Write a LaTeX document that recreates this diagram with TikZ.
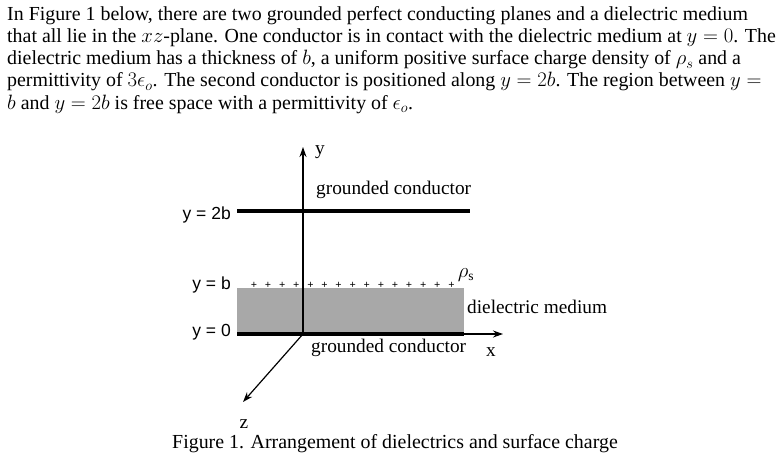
\documentclass[tikz,border=0pt]{standalone}
\usepackage{fontspec}
\setmainfont{Liberation Serif}
\setsansfont{Liberation Sans}
\usetikzlibrary{arrows.meta}
\begin{document}
\begin{tikzpicture}[x=1pt,y=-1pt,
  para/.style={anchor=base west,inner sep=0,font=\fontsize{19.9}{22}\selectfont},
  lab/.style={inner sep=0,font=\fontsize{19.3}{21}\selectfont},
  ylab/.style={inner sep=0,anchor=east,font=\sffamily\fontsize{17.5}{19}\selectfont},
  plate/.style={line width=4.5pt},
  axis/.style={line width=1.2pt,-{Stealth[length=10pt,width=7pt]}}]
\useasboundingbox (0,0) rectangle (779,460);
\node[para] (l1) at (7,21) {In Figure 1 below, there are two grounded perfect conducting planes and a dielectric medium};
\node[para] (l2) at (7,43) {that all lie in the $xz$-plane. One conductor is in contact with the dielectric medium at $y=0$. The};
\node[para] (l3) at (7,65) {dielectric medium has a thickness of $b$, a uniform positive surface charge density of $\rho_s$ and a};
\node[para] (l4) at (7,87) {permittivity of $3\epsilon_o$. The second conductor is positioned along $y=2b$. The region between $y=$};
\node[para] (l5) at (7,109) {$b$ and $y=2b$ is free space with a permittivity of $\epsilon_o$.};
% dielectric
\fill[gray!68] (237,288) rectangle (464,333);
% plates
\draw[plate] (237,211) -- (470,211);
\draw[plate] (237,334) -- (464,334);
% axes
\coordinate (o) at (303,334);
\coordinate (ytip) at (303,147);
\coordinate (xtip) at (503,334);
\coordinate (ztip) at (243,402);
\draw[axis] (o) -- (ytip);
\draw[axis] (o) -- (xtip);
\draw[axis] (o) -- (ztip);
% pluses
\foreach \i in {0,...,14} \node[inner sep=0,font=\bfseries\fontsize{11}{11}\selectfont] at (254+\i*14.1,285) {+};
\node[lab] (ylabel) at (320,152) {y};
\node[lab] (xlabel) at (491,352) {x};
\node[lab] (zlabel) at (244,424) {z};
\node[lab,anchor=west] (gc1) at (316,190) {grounded conductor};
\node[lab,anchor=west] (gc2) at (311,348) {grounded conductor};
\node[lab,anchor=west] (dm) at (467,307) {dielectric medium};
\node[lab] (rho) at (466,275) {$\rho_{\mathrm s}$};
\node[ylab] (y2b) at (231,215) {y = 2b};
\node[ylab] (yb) at (231,285) {y = b};
\node[ylab] (y0) at (231,332) {y = 0};
\node[inner sep=0,font=\fontsize{19.9}{22}\selectfont] (cap) at (395,444) {Figure 1. Arrangement of dielectrics and surface charge};
\end{tikzpicture}
\end{document}
